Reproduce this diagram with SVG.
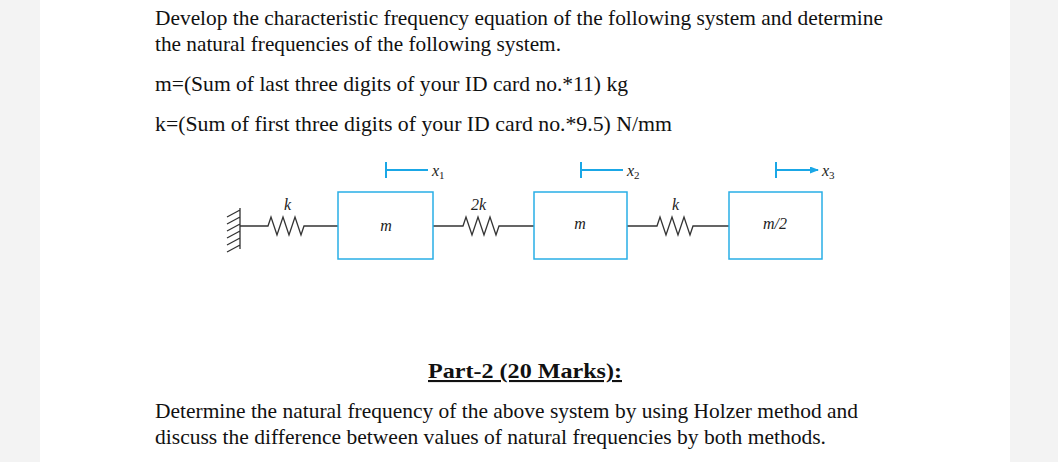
<svg xmlns="http://www.w3.org/2000/svg" width="1058" height="462" viewBox="0 0 1058 462">
<style>
.t{font-family:"Liberation Serif",serif;font-size:21px;fill:#111}
.l{font-family:"Liberation Serif",serif;font-style:italic;font-size:16px;fill:#222}
.b{fill:#fff;stroke:#29aee6;stroke-width:1.5}
.w{fill:none;stroke:#333;stroke-width:1.3}
.a{stroke:#1aa7e6;stroke-width:2}
</style>
<defs><marker id="ah" markerWidth="9" markerHeight="7" refX="8" refY="3.5" orient="auto" markerUnits="userSpaceOnUse"><path d="M0,0L9,3.5L0,7z" fill="#1aa7e6"/></marker></defs>
<rect width="1058" height="462" fill="#fff"/>
<rect x="0" y="0" width="40" height="462" fill="#f3f3f3"/>
<rect x="1010" y="0" width="48" height="462" fill="#f3f3f3"/>
<text class="t" x="155" y="25" textLength="728" lengthAdjust="spacingAndGlyphs">Develop the characteristic frequency equation of the following system and determine</text>
<text class="t" x="155" y="51" textLength="406" lengthAdjust="spacingAndGlyphs">the natural frequencies of the following system.</text>
<text class="t" x="155" y="91" textLength="473" lengthAdjust="spacingAndGlyphs">m=(Sum of last three digits of your ID card no.*11) kg</text>
<text class="t" x="155" y="131" textLength="517" lengthAdjust="spacingAndGlyphs">k=(Sum of first three digits of your ID card no.*9.5) N/mm</text>
<g id="wall"><path class="w" d="M240,208V249M240,210l-13,7M240,217l-13,7M240,224l-13,7M240,231l-13,7M240,238l-13,7M240,245l-13,7"/></g>
<g id="connectors">
<path class="w" d="M240,226H268l3,-9l6,18l6,-18l6,18l6,-18l6,18l3,-9H338"/>
<path class="w" d="M433,226H463l3,-9l6,18l6,-18l6,18l6,-18l6,18l3,-9H534"/>
<path class="w" d="M627,226H657l3,-9l6,18l6,-18l6,18l6,-18l6,18l3,-9H729"/>
<path class="a" d="M386,162V178M581,162V178M776,162V178"/>
<path class="a" d="M386,170H428M581,170H623M776,170H818" marker-end="url(#ah)"/>
</g>
<text class="l" x="284" y="210">k</text>
<text class="l" x="471" y="210">2k</text>
<text class="l" x="672" y="210">k</text>
<text class="l" x="432" y="176">x<tspan font-size="11" dy="3" font-style="normal">1</tspan></text>
<text class="l" x="627" y="176">x<tspan font-size="11" dy="3" font-style="normal">2</tspan></text>
<text class="l" x="822" y="176">x<tspan font-size="11" dy="3" font-style="normal">3</tspan></text>
<g id="m1"><rect class="b" x="338" y="192" width="95" height="67"/><text class="l" x="386" y="231" text-anchor="middle">m</text></g>
<g id="m2"><rect class="b" x="534" y="192" width="93" height="67"/><text class="l" x="580" y="229" text-anchor="middle">m</text></g>
<g id="m3"><rect class="b" x="729" y="192" width="93" height="67"/><text class="l" x="775" y="229" text-anchor="middle">m/2</text></g>
<text class="t" x="428" y="378" font-weight="bold" text-decoration="underline" textLength="194" lengthAdjust="spacingAndGlyphs">Part-2 (20 Marks):</text>
<text class="t" x="155" y="418" textLength="703" lengthAdjust="spacingAndGlyphs">Determine the natural frequency of the above system by using Holzer method and</text>
<text class="t" x="155" y="444" textLength="671" lengthAdjust="spacingAndGlyphs">discuss the difference between values of natural frequencies by both methods.</text>
</svg>
